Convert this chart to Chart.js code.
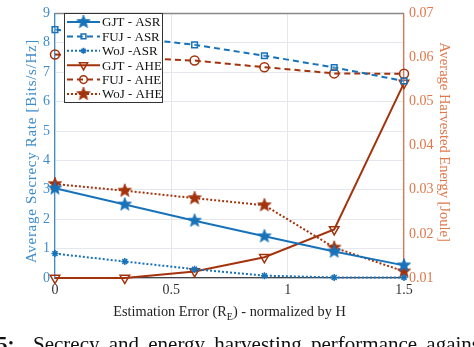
<!DOCTYPE html>
<html><head><meta charset="utf-8">
<script src="https://cdn.jsdelivr.net/npm/chart.js@4/dist/chart.umd.min.js"></script>
<style>
html,body{margin:0;padding:0;background:#fff;overflow:hidden;}
#wrap{position:relative;width:474px;height:347px;overflow:hidden;}
canvas{position:absolute;left:0;top:0;}
#cap{position:absolute;left:-3px;top:334px;font-family:"Liberation Serif",serif;font-size:21px;line-height:21px;color:#111;white-space:nowrap;word-spacing:4px;}
</style></head>
<body><div id="wrap"><canvas id="c" width="474" height="347"></canvas><div id="cap"><b>5:</b>&nbsp;&nbsp;Secrecy and energy harvesting performance against</div></div>
<script>
const errorLevels = [0, 0.3, 0.6, 0.9, 1.2, 1.5];
const gjtASR = [3.05, 2.5, 1.95, 1.42, 0.9, 0.43];
const fujASR = [8.45, 8.2, 7.93, 7.56, 7.16, 6.7];
const wojASR = [0.83, 0.56, 0.3, 0.08, 0.02, 0.02];
const gjtAHE = [0.0100, 0.0100, 0.0115, 0.0147, 0.0210, 0.0542];
const fujAHE = [0.0607, 0.0600, 0.0593, 0.0578, 0.0564, 0.0563];
const wojAHE = [0.0313, 0.0298, 0.0281, 0.0265, 0.0169, 0.0115];
const seriesNames = ['GJT - ASR', 'FUJ - ASR', 'WoJ -ASR', 'GJT - AHE', 'FUJ - AHE', 'WoJ - AHE'];
const xTicks = [0, 0.5, 1, 1.5];
const xTitleParts = ['Estimation Error (R', 'E', ') - normalized by H'];
const leftTitle = 'Average Secrecy Rate [Bits/s/Hz]';
const rightTitle = 'Average Harvested Energy [Joule]';

const BLUE = '#1872b9';
const RED = '#a3330c';
const LBLUE = '#3d8ccb';
const LORANGE = '#e0764a';

function starImg(color, r) {
  const c = document.createElement('canvas');
  const s = Math.ceil(r * 2 + 2);
  c.width = s; c.height = s;
  const g = c.getContext('2d');
  g.translate(s / 2, s / 2);
  g.beginPath();
  for (let i = 0; i < 10; i++) {
    const rr = i % 2 === 0 ? r : r * 0.42;
    const a = -Math.PI / 2 + i * Math.PI / 5;
    g.lineTo(rr * Math.cos(a), rr * Math.sin(a));
  }
  g.closePath();
  g.fillStyle = color; g.fill();
  g.strokeStyle = color; g.lineWidth = 0.8; g.stroke();
  return c;
}
const blueStar = starImg(BLUE, 7);
const redStar = starImg(RED, 7);

function pts(ys) { return errorLevels.map((x, i) => ({x: x, y: ys[i]})); }

const datasets = [
  {label: seriesNames[0], data: pts(gjtASR), yAxisID: 'y', borderColor: BLUE, backgroundColor: BLUE, borderWidth: 2, pointStyle: blueStar, pointRadius: 7},
  {label: seriesNames[1], data: pts(fujASR), yAxisID: 'y', borderColor: BLUE, backgroundColor: 'rgba(255,255,255,0.2)', borderWidth: 2, borderDash: [6, 4], pointStyle: 'rect', pointRadius: 4, pointBorderWidth: 1.5},
  {label: seriesNames[2], data: pts(wojASR), yAxisID: 'y', borderColor: BLUE, backgroundColor: BLUE, borderWidth: 2, borderDash: [2, 2], pointStyle: 'star', pointRadius: 3.5, pointBorderWidth: 1.5},
  {label: seriesNames[3], data: pts(gjtAHE), yAxisID: 'y2', borderColor: RED, backgroundColor: 'rgba(255,255,255,0)', borderWidth: 2, pointStyle: 'triangle', pointRotation: 180, pointRadius: 5.5, pointBorderWidth: 1.5},
  {label: seriesNames[4], data: pts(fujAHE), yAxisID: 'y2', borderColor: RED, backgroundColor: 'rgba(255,255,255,0)', borderWidth: 2, borderDash: [6, 4], pointStyle: 'circle', pointRadius: 4.5, pointBorderWidth: 1.5},
  {label: seriesNames[5], data: pts(wojAHE), yAxisID: 'y2', borderColor: RED, backgroundColor: RED, borderWidth: 2, borderDash: [2, 2], pointStyle: redStar, pointRadius: 7}
];
datasets.forEach(d => { d.pointBackgroundColor = d.backgroundColor; d.pointBorderColor = d.borderColor; d.tension = 0; d.clip = false; });

const SERIF = '"Liberation Serif", "DejaVu Serif", serif';

const decorPlugin = {
  id: 'decor',
  afterDraw(chart) {
    const ctx = chart.ctx;
    const a = chart.chartArea;
    ctx.save();
    // top frame line
    ctx.strokeStyle = '#888'; ctx.lineWidth = 1.5;
    ctx.beginPath(); ctx.moveTo(a.left, a.top); ctx.lineTo(a.right, a.top); ctx.stroke();
    // legend
    const x0 = 64, y0 = 13, w = 98, h = 89;
    ctx.fillStyle = '#fff';
    ctx.fillRect(x0, y0, w, h);
    ctx.strokeStyle = '#333'; ctx.lineWidth = 1; ctx.setLineDash([]);
    ctx.strokeRect(x0 + 0.5, y0 + 0.5, w, h);
    ctx.font = '13px ' + SERIF;
    ctx.textBaseline = 'middle';
    ctx.textAlign = 'left';
    chart.data.datasets.forEach((d, i) => {
      const y = 22 + i * 14.4;
      ctx.strokeStyle = d.borderColor; ctx.lineWidth = 2;
      ctx.setLineDash(d.borderDash || []);
      ctx.beginPath(); ctx.moveTo(67, y); ctx.lineTo(100, y); ctx.stroke();
      ctx.setLineDash([]);
      const mx = 83.5;
      if (d.pointStyle instanceof HTMLCanvasElement) {
        ctx.drawImage(d.pointStyle, mx - d.pointStyle.width / 2, y - d.pointStyle.height / 2);
      } else if (Chart.helpers && Chart.helpers.drawPoint) {
        ctx.fillStyle = d.pointBackgroundColor; ctx.strokeStyle = d.pointBorderColor; ctx.lineWidth = d.pointBorderWidth || 1;
        Chart.helpers.drawPoint(ctx, {pointStyle: d.pointStyle, rotation: d.pointRotation || 0, radius: d.pointRadius * 0.85, borderWidth: d.pointBorderWidth || 1}, mx, y);
      }
      ctx.fillStyle = '#111';
      ctx.fillText(d.label, 102, y + 1);
    });
    // x title with subscript
    ctx.fillStyle = '#222';
    ctx.textBaseline = 'alphabetic';
    const big = '14.3px ' + SERIF, small = '10px ' + SERIF;
    ctx.font = big; const w1 = ctx.measureText(xTitleParts[0]).width, w3 = ctx.measureText(xTitleParts[2]).width;
    ctx.font = small; const w2 = ctx.measureText(xTitleParts[1]).width;
    let tx = (a.left + a.right) / 2 - (w1 + w2 + w3) / 2;
    const ty = 316;
    ctx.font = big; ctx.fillText(xTitleParts[0], tx, ty); tx += w1;
    ctx.font = small; ctx.fillText(xTitleParts[1], tx, ty + 4); tx += w2;
    ctx.font = big; ctx.fillText(xTitleParts[2], tx, ty);
    // left title
    ctx.textAlign = 'center'; ctx.textBaseline = 'middle';
    ctx.save();
    ctx.translate(32, 151); ctx.rotate(-Math.PI / 2);
    ctx.font = '15px ' + SERIF; ctx.fillStyle = LBLUE;
    try { ctx.letterSpacing = '0.7px'; } catch (e) {}
    ctx.fillText(leftTitle, 0, 0);
    try { ctx.letterSpacing = '0px'; } catch (e) {}
    ctx.restore();
    // right title
    ctx.save();
    ctx.translate(444, 142); ctx.rotate(Math.PI / 2);
    ctx.font = '14.5px ' + SERIF; ctx.fillStyle = LORANGE;
    ctx.fillText(rightTitle, 0, 0);
    ctx.restore();
    ctx.restore();
  }
};

new Chart(document.getElementById('c'), {
  type: 'line',
  data: {datasets: datasets},
  plugins: [decorPlugin],
  options: {
    responsive: false, animation: false,
    layout: {padding: {top: 5, left: 0, right: 0, bottom: 0}},
    plugins: {legend: {display: false}, tooltip: {enabled: false}},
    scales: {
      x: {
        type: 'linear', min: 0, max: 1.5,
        afterBuildTicks: s => { s.ticks = xTicks.map(v => ({value: v})); },
        afterFit: s => { s.height = 69; },
        ticks: {color: '#333', font: {family: SERIF, size: 14}, padding: 4, callback: v => String(v)},
        grid: {color: '#e4e8ee', tickLength: 0, drawTicks: false},
        border: {color: '#444', width: 1.2}
      },
      y: {
        position: 'left', min: 0, max: 9,
        afterFit: s => { s.width = 55; },
        ticks: {stepSize: 1, color: LBLUE, font: {family: SERIF, size: 14}, padding: 5},
        grid: {color: '#e4e8ee', drawTicks: false},
        border: {color: LBLUE, width: 1.2}
      },
      y2: {
        position: 'right', min: 0.01, max: 0.07,
        afterFit: s => { s.width = 70; },
        ticks: {stepSize: 0.01, color: LORANGE, font: {family: SERIF, size: 14}, padding: 5, callback: v => v.toFixed(2)},
        grid: {display: false, drawTicks: false},
        border: {color: LORANGE, width: 1.2}
      }
    }
  }
});
</script></body></html>
